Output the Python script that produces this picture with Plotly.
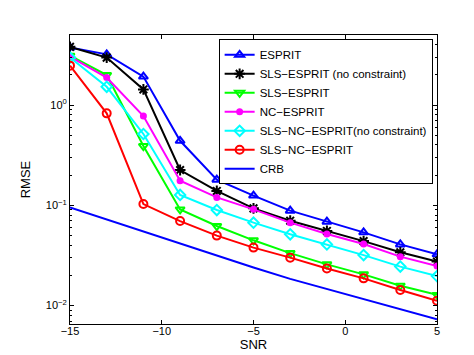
import plotly.graph_objects as go

snr = [-15, -13, -11, -9, -7, -5, -3, -1, 1, 3, 5]

esprit = [3.75, 3.2, 1.92, 0.44, 0.18, 0.125, 0.0885, 0.0687, 0.0538, 0.0408, 0.0325]
sls_esprit_nc = [3.8, 2.97, 1.43, 0.225, 0.139, 0.0933, 0.0703, 0.0555, 0.044, 0.034, 0.0275]
sls_esprit = [3.1, 1.99, 0.39, 0.091, 0.0622, 0.0448, 0.0334, 0.0258, 0.0205, 0.0158, 0.0128]
nc_esprit = [3.04, 1.88, 0.777, 0.176, 0.120, 0.0912, 0.0672, 0.0518, 0.0411, 0.0308, 0.0248]
sls_nc_esprit_nc = [2.97, 1.52, 0.514, 0.127, 0.0898, 0.0672, 0.0514, 0.0408, 0.0319, 0.0245, 0.0197]
sls_nc_esprit = [2.47, 0.826, 0.103, 0.0697, 0.0499, 0.0379, 0.0301, 0.0235, 0.0187, 0.0143, 0.0112]
crb = [0.0955, 0.0723, 0.0549, 0.0417, 0.0316, 0.024, 0.0185, 0.0146, 0.0116, 0.0092, 0.0073]

series = [
    ("ESPRIT", esprit, "rgb(0,0,255)", "triangle-up-open", 8, 2),
    ("SLS\u2212ESPRIT (no constraint)", sls_esprit_nc, "rgb(0,0,0)", "asterisk-open", 9, 2),
    ("SLS\u2212ESPRIT", sls_esprit, "rgb(0,255,0)", "triangle-down-open", 8, 2),
    ("NC\u2212ESPRIT", nc_esprit, "rgb(255,0,255)", "circle", 7, 0),
    ("SLS\u2212NC\u2212ESPRIT(no constraint)", sls_nc_esprit_nc, "rgb(0,255,255)", "diamond-open", 8, 2),
    ("SLS\u2212NC\u2212ESPRIT", sls_nc_esprit, "rgb(255,0,0)", "circle-open", 8, 2),
]

fig = go.Figure()
for name, vals, col, sym, sz, mlw in series:
    fig.add_trace(go.Scatter(
        x=snr, y=vals, name=name, mode="lines+markers",
        line=dict(color=col, width=2),
        marker=dict(symbol=sym, size=sz, color=col, line=dict(color=col, width=mlw)),
    ))
fig.add_trace(go.Scatter(x=snr, y=crb, name="CRB", mode="lines",
                         line=dict(color="rgb(0,0,255)", width=2)))

minor_vals = [m * 10.0 ** e for e in (-3, -2, -1, 0) for m in range(2, 10)]
minor_vals = [v for v in minor_vals if 0.0065 < v < 5.0]

font = "Liberation Sans, Arial, Helvetica, sans-serif"
fig.update_layout(
    width=474, height=355,
    margin=dict(l=62, r=45, t=27, b=39),
    paper_bgcolor="white", plot_bgcolor="white",
    font=dict(family=font, size=11, color="black"),
    showlegend=True,
    legend=dict(x=0.405, y=0.985, xanchor="left", yanchor="top",
                bgcolor="white", bordercolor="black", borderwidth=1,
                font=dict(size=11.5), tracegroupgap=0),
    xaxis=dict(range=[-15, 5], tickvals=[-15, -10, -5, 0, 5],
               ticks="inside", ticklen=4, tickcolor="black",
               ticklabelstandoff=-3,
               showline=True, linecolor="black", linewidth=1, mirror="ticks",
               showgrid=False, zeroline=False,
               title=dict(text="SNR", standoff=0)),
    yaxis=dict(type="log", range=[-2.183, 0.698],
               tickvals=[0.01, 0.1, 1],
               ticktext=["10<sup>\u22122</sup>", "10<sup>\u22121</sup>", "10<sup>0</sup>"],
               ticks="inside", ticklen=4, tickcolor="black",
               minor=dict(tickmode="array", tickvals=minor_vals, ticks="inside",
                          ticklen=2, tickcolor="black", showgrid=False),
               showline=True, linecolor="black", linewidth=1, mirror="ticks",
               showgrid=False, zeroline=False,
               title=dict(text="RMSE", standoff=12)),
)

fig.write_html("out.html")
